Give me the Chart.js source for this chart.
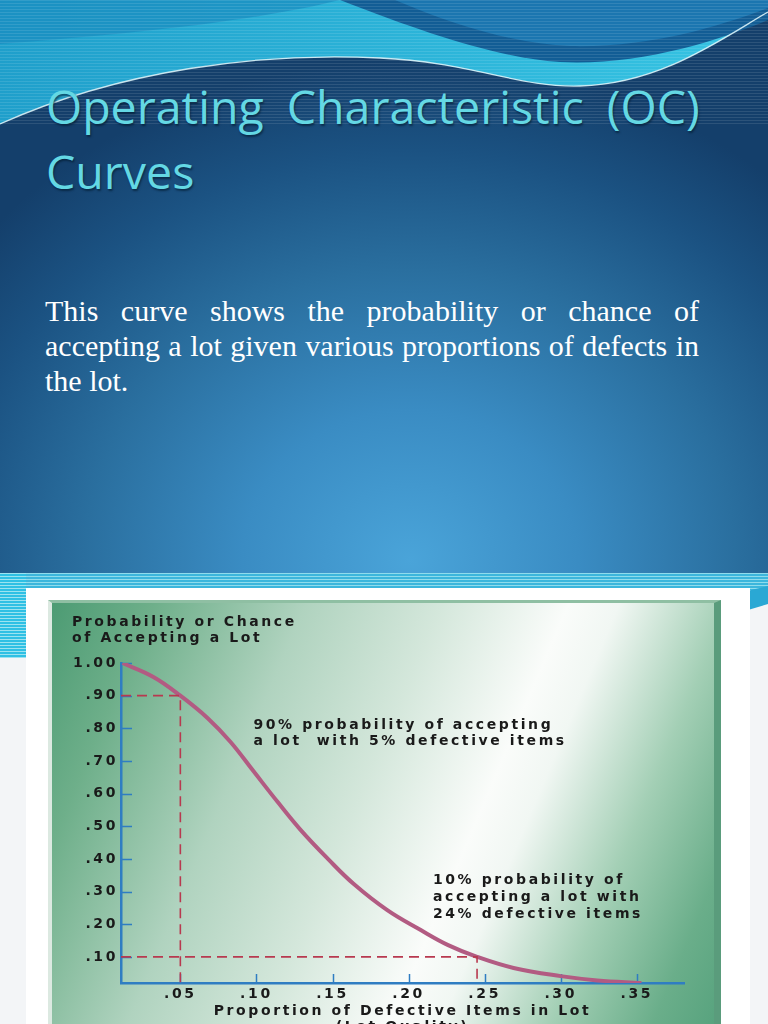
<!DOCTYPE html>
<html>
<head>
<meta charset="utf-8">
<title>Operating Characteristic (OC) Curves</title>
<script src="https://cdn.jsdelivr.net/npm/chart.js"></script>
<style>
  html, body { margin: 0; padding: 0; }
  body {
    width: 768px; height: 1024px; overflow: hidden; position: relative;
    background: #f3f5f7;
  }
  #slide {
    position: absolute; left: 0; top: 0; width: 768px; height: 580px;
    background: radial-gradient(ellipse 560px 500px at 410px 560px,
      #4aa4d9 0%, #3a8cc3 30%, #2a6f9f 58%, #1b5282 82%, #143f6b 100%);
  }
  #deco { position: absolute; left: 0; top: 0; }
  #title {
    position: absolute; left: 46px; top: 74px; margin: 0;
    font-family: "Open Sans", "Noto Sans", sans-serif; font-weight: 400;
    font-size: 46.5px; line-height: 65px; color: #64d8e4;
    font-variant-ligatures: none;
    text-shadow: 1px 2px 2px rgba(0, 25, 45, 0.6);
    word-spacing: 11px; white-space: nowrap;
  }
  #text {
    position: absolute; left: 45px; top: 293px; width: 654px; margin: 0;
    font-family: "Liberation Serif", "Times New Roman", serif;
    font-size: 30px; line-height: 35px; color: #ffffff; text-align: justify;
  }
  #stripes {
    position: absolute; left: 0; top: 573px; width: 768px; height: 17px;
    background: repeating-linear-gradient(to bottom, #8fdcec 0 1px, #3cb6dc 1px 3px);
  }
  #leftStrip {
    position: absolute; left: 0; top: 573px; width: 26px; height: 85px;
    background: repeating-linear-gradient(to bottom, #9be3f0 0 1px, #2fc0e4 1px 3px);
  }
  #rightBlob {
    position: absolute; left: 748px; top: 586px; width: 20px; height: 24px;
    background: #2aa8d4; clip-path: polygon(0 20%, 100% 0, 100% 75%, 0 100%);
  }
  #frame {
    position: absolute; left: 26px; top: 588px; width: 724px; height: 460px;
    background: #ffffff;
  }
  #panel {
    position: absolute; left: 48px; top: 600px; width: 673px; height: 440px;
    box-sizing: border-box;
    border-top: 3px solid #8fbfa3; border-right: 7px solid #5a9c7c; border-left: 4px solid #dce9e1;
    background: linear-gradient(113deg, #4c9b73 0%, #6eaf8a 12%, #b0d3bf 30%, #d4e7db 46%,
      #fafcfa 61%, #f1f7f3 67%, #a3cfb5 80%, #6aae8a 92%, #56a27d 100%);
  }
  #oc { position: absolute; left: 48px; top: 600px; }
</style>
</head>
<body>
<div id="slide"></div>
<svg id="deco" width="768" height="140">
  <defs>
    <linearGradient id="band" x1="0" x2="1" y1="0" y2="0">
      <stop offset="0" stop-color="#1f9fcb"/>
      <stop offset="0.6" stop-color="#2db6da"/>
      <stop offset="1" stop-color="#36c4e3"/>
    </linearGradient>
    <pattern id="lines" width="6" height="3" patternUnits="userSpaceOnUse">
      <rect width="6" height="1" fill="rgba(255,255,255,0.10)"/>
    </pattern>
  </defs>
  <path d="M0,0 H768 V12 C720,40 660,84 580,86 C520,88 470,62 380,58 C260,52 120,70 0,124 Z" fill="url(#band)"/>
  <path d="M0,0 H340 C250,22 130,34 0,44 Z" fill="#1a8cbf" opacity="0.7"/>
  <path d="M340,0 C430,35 500,58 560,62 C640,66 720,40 768,20 V0 Z" fill="#125d95"/>
  <path d="M395,0 C460,28 520,44 570,46 C650,48 720,26 768,8 V0 Z" fill="#1b76b0"/>
  <path d="M0,0 H768 V124 H0 Z" fill="url(#lines)"/>
  <path d="M0,124 C120,70 260,52 380,58 C470,62 520,88 580,86 C660,84 720,40 768,12"
        stroke="#e6fbff" stroke-width="1.3" fill="none" opacity="0.85"/>
</svg>
<h1 id="title">Operating Characteristic (OC)<br>Curves</h1>
<p id="text">This curve shows the probability or chance of accepting a lot given various proportions of defects in the lot.</p>
<div id="stripes"></div>
<div id="leftStrip"></div>
<div id="rightBlob"></div>
<div id="frame"></div>
<div id="panel"></div>
<canvas id="oc" width="673" height="440"></canvas>

<script>
// OC curve: proportion defective -> probability of acceptance
const curveX = [0.012, 0.032, 0.05, 0.068, 0.083, 0.098, 0.114, 0.129, 0.147, 0.164,
                0.186, 0.208, 0.226, 0.245, 0.269, 0.30, 0.324, 0.353];
const curveY = [1.00, 0.958, 0.90, 0.831, 0.758, 0.669, 0.574, 0.489, 0.40, 0.323,
                0.243, 0.182, 0.136, 0.10, 0.066, 0.041, 0.028, 0.02];

// the two marked points
const aqlX = 0.05, aqlP = 0.90;
const ltpdX = 0.245, ltpdP = 0.10;

const xTickValues = [0.05, 0.10, 0.15, 0.20, 0.25, 0.30, 0.35];
const xTickLabels = ['.05', '.10', '.15', '.20', '.25', '.30', '.35'];
const yTickValues = [0.1, 0.2, 0.3, 0.4, 0.5, 0.6, 0.7, 0.8, 0.9, 1.0];
const yTickLabels = ['.10', '.20', '.30', '.40', '.50', '.60', '.70', '.80', '.90', '1.00'];

const xMin = 0.011, xMax = 0.381, yMin = 0.02, yMax = 1.0;

const AXIS = '#2f7dc2';
const TEXT = '#1a1a1a';
const DASH = '#b8394f';
const FONT = { family: '"DejaVu Sans", "Liberation Sans", sans-serif', size: 14, weight: 'bold', lineHeight: 16 / 14 };
const SPACING = '2.6px';

// the picture's lettering is very wide, widen canvas text the same way
const spacing = {
  id: 'spacing',
  beforeLayout(chart) { chart.ctx.letterSpacing = SPACING; },
  beforeDraw(chart) { chart.ctx.letterSpacing = SPACING; }
};

// short ticks pointing into the plot
const innerTicks = {
  id: 'innerTicks',
  beforeDatasetsDraw(chart) {
    const { ctx, chartArea, scales } = chart;
    ctx.save();
    ctx.strokeStyle = AXIS;
    ctx.lineWidth = 1.5;
    ctx.beginPath();
    yTickValues.forEach(v => {
      const y = Math.round(scales.y.getPixelForValue(v)) + 0.5;
      ctx.moveTo(chartArea.left, y);
      ctx.lineTo(chartArea.left + 11, y);
    });
    xTickValues.forEach(v => {
      const x = Math.round(scales.x.getPixelForValue(v)) + 0.5;
      ctx.moveTo(x, chartArea.bottom);
      ctx.lineTo(x, chartArea.bottom - 9);
    });
    ctx.stroke();
    ctx.restore();
  }
};

const notes = [
  { x: 0.098, y: 0.81, step: 16, lines: ['90% probability of accepting', 'a lot  with 5% defective items'] },
  { x: 0.216, y: 0.335, step: 17, lines: ['10% probability of', 'accepting a lot with', '24% defective items'] }
];

const callouts = {
  id: 'callouts',
  afterDraw(chart) {
    const { ctx, scales } = chart;
    ctx.save();
    ctx.letterSpacing = SPACING;
    ctx.font = FONT.weight + ' ' + FONT.size + 'px ' + FONT.family;
    ctx.fillStyle = TEXT;
    ctx.textAlign = 'left';
    ctx.textBaseline = 'middle';
    notes.forEach(n => {
      const x = scales.x.getPixelForValue(n.x);
      const y = scales.y.getPixelForValue(n.y);
      n.lines.forEach((line, i) => ctx.fillText(line, x, y + i * n.step));
    });
    ctx.restore();
  }
};

const curve = curveX.map((x, i) => ({ x: x, y: curveY[i] }));
const guide90 = [{ x: xMin, y: aqlP }, { x: aqlX, y: aqlP }, { x: aqlX, y: yMin }];
const guide10 = [{ x: xMin, y: ltpdP }, { x: ltpdX, y: ltpdP }, { x: ltpdX, y: yMin }];

const dashStyle = {
  borderColor: DASH, borderWidth: 1.6, borderDash: [10, 6],
  pointRadius: 0, tension: 0, fill: false
};

new Chart(document.getElementById('oc'), {
  type: 'line',
  data: {
    datasets: [
      Object.assign({ data: guide90 }, dashStyle),
      Object.assign({ data: guide10 }, dashStyle),
      {
        data: curve,
        borderColor: '#b25b82',
        borderWidth: 4,
        pointRadius: 0,
        tension: 0.4,
        fill: false
      }
    ]
  },
  options: {
    responsive: false,
    animation: false,
    layout: { padding: { left: 24, right: 37, top: 0, bottom: 0 } },
    plugins: {
      legend: { display: false },
      tooltip: { enabled: false },
      title: {
        display: true,
        text: ['Probability or Chance', 'of Accepting a Lot'],
        align: 'start',
        color: TEXT,
        font: FONT,
        padding: { top: 14, bottom: 17 }
      }
    },
    scales: {
      x: {
        type: 'linear', min: xMin, max: xMax,
        grid: { display: false, drawTicks: false },
        border: { color: AXIS, width: 2.5 },
        afterBuildTicks: s => { s.ticks = xTickValues.map(v => ({ value: v })); },
        afterFit: s => { s.height = 57; },
        ticks: {
          autoSkip: false, maxRotation: 0, padding: 3, color: TEXT, font: FONT,
          callback: (v, i) => xTickLabels[i]
        },
        title: {
          display: true,
          text: ['Proportion of Defective Items in Lot', '(Lot Quality)'],
          color: TEXT, font: FONT, padding: { top: 0, bottom: 5 }
        }
      },
      y: {
        type: 'linear', min: yMin, max: yMax,
        grid: { display: false, drawTicks: false },
        border: { color: AXIS, width: 2.5 },
        afterBuildTicks: s => { s.ticks = yTickValues.map(v => ({ value: v })); },
        afterFit: s => { s.width = 49; },
        ticks: {
          autoSkip: false, padding: 3, color: TEXT, font: FONT,
          callback: (v, i) => yTickLabels[i]
        }
      }
    }
  },
  plugins: [spacing, innerTicks, callouts]
});
</script>
</body>
</html>
